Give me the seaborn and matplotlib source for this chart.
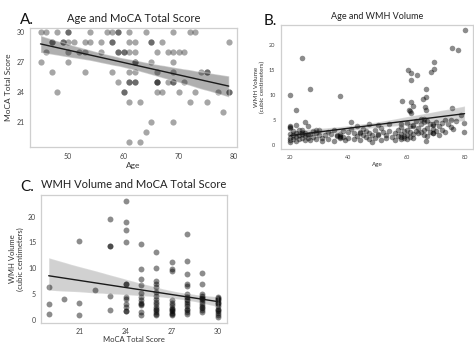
import numpy as np
import pandas as pd
import matplotlib
matplotlib.use("Agg")
import matplotlib.pyplot as plt
import seaborn as sns

sns.set_theme(style="white")
plt.rcParams['font.family'] = ['Lato', 'DejaVu Sans']

# ---------------- Panel A: Age vs MoCA ----------------
age_a = ([45, 46, 48, 50, 50, 54, 57, 58, 59, 59, 61, 64, 69, 72, 73] +
         [47, 47, 49, 49, 50, 51, 53, 54, 56, 58, 58, 61, 62, 65, 65, 67, 79] +
         [46, 50, 52, 53, 56, 59, 59, 60, 60, 61, 62, 66, 68, 69, 70, 71] +
         [45, 50, 62, 62, 65, 69] +
         [47, 53, 58, 61, 62, 66, 69, 74, 75, 75] +
         [59, 61, 61, 62, 62, 66, 66, 66, 68, 69, 69, 71] +
         [48, 60, 60, 66, 67, 70, 73, 77, 79, 79] +
         [61, 63, 72, 75] + [78] + [65, 69] + [64] + [61, 63])
moca_a = ([30] * 15 + [29] * 17 + [28] * 16 + [27] * 6 + [26] * 10 +
          [25] * 12 + [24] * 10 + [23] * 4 + [22] * 1 + [21] * 2 + [20] * 1 + [19] * 2)

# ---------------- Panel B: Age vs WMH ----------------
age_b = [20, 24, 22, 27, 37, 60.4, 61.4, 61.4, 63.5, 58.4, 61.4, 62.3, 60.9, 61.2, 61.4,
         66.5, 66.5, 65.5, 66.2, 68.4, 69.5, 69.5, 75.5, 77.6, 79.8, 75.5, 78.6, 79.5, 79.5,
         66.5, 66.5, 65.8,
         20, 20, 20, 20, 20, 20, 20, 21, 21, 21, 22, 22, 22, 22, 23, 23, 23,
         24, 24, 24, 24, 25, 25, 25, 25, 26, 26, 26, 27, 27, 28, 28, 29, 29, 29,
         30, 30, 31, 31, 32, 33, 33, 34, 35, 35, 36, 36, 37, 37, 37, 37, 38, 38,
         39, 40, 40, 41, 41, 42, 42, 43, 43, 44, 44, 44, 45, 45, 46, 46, 47, 47, 47,
         48, 48, 49, 49, 50, 50, 50, 51, 51, 52, 53, 53, 54, 54, 55, 56, 56, 57, 57,
         58, 58, 58, 58, 58, 59, 59, 59, 60, 60, 60, 60, 61, 61, 61, 62, 62, 62, 62,
         63, 63, 64, 64, 65, 65, 65, 66, 66, 66, 67, 67, 67, 68, 68, 69, 69, 69, 69, 69,
         70, 70, 71, 71, 72, 72, 73, 73, 74, 75, 75, 76, 77]
wmh_b = [10, 17.5, 7, 11.3, 9.8, 15.1, 14.4, 13.0, 14.0, 8.8, 8.7, 7.9, 7.0, 6.8, 6.5,
         9.7, 11.3, 9.2, 7.7, 14.6, 15.3, 16.6, 19.5, 19.0, 23.0, 7.5, 6.0, 4.5, 2.7,
         0.9, 7.0, 5.2,
         0.7, 1.0, 1.5, 2.2, 3.5, 3.8, 3.6, 1.2, 2.0, 2.8, 0.9, 1.6, 2.5, 4.0, 1.2, 2.0, 3.0,
         1.5, 2.2, 3.1, 2.6, 1.0, 1.8, 4.6, 2.5, 2.0, 3.8, 1.4, 1.1, 2.3, 1.6, 2.8, 1.2, 2.5, 3.0,
         2.0, 3.1, 0.8, 1.5, 2.0, 1.3, 2.6, 2.2, 0.8, 3.0, 1.8, 2.1, 1.6, 1.9, 2.3, 1.5, 2.8, 1.7,
         1.0, 2.6, 1.4, 4.7, 3.3, 1.2, 2.4, 3.8, 1.9, 2.4, 2.6, 1.0, 3.2, 2.0, 1.6, 2.8, 4.3, 1.2, 2.5,
         0.6, 2.0, 1.5, 3.0, 2.1, 2.3, 4.0, 1.1, 3.4, 2.6, 1.4, 2.0, 2.8, 4.2, 1.6, 2.4, 1.0, 3.0, 1.9,
         1.2, 1.6, 2.2, 3.6, 4.2, 1.8, 2.8, 1.4, 2.0, 3.0, 4.4, 1.2, 2.6, 3.8, 1.6, 3.9, 4.1, 2.2, 1.5,
         2.8, 4.8, 2.4, 3.4, 4.2, 2.7, 5.2, 3.0, 4.6, 2.0, 4.8, 1.8, 3.5, 2.6, 4.2, 4.0, 4.2, 2.4, 2.5, 3.3,
         4.6, 2.8, 3.8, 2.0, 4.4, 3.0, 5.0, 2.6, 4.3, 3.6, 5.0, 3.2, 4.8]

# ---------------- Panel C: MoCA vs WMH ----------------
moca_c = ([19] * 3 + [20] + [21] * 3 + [22] + [23] * 5 + [24] * 12 + [25] * 12 +
          [26] * 16 + [27] * 13 + [28] * 16 + [29] * 14 + [30] * 14)
wmh_c = ([6.3, 3.0, 1.2] + [4.0] + [15.2, 3.2, 0.9] + [5.8] +
         [19.6, 14.3, 14.3, 4.7, 2.0] +
         [23.0, 19.0, 17.5, 15.0, 7.0, 7.0, 4.5, 4.0, 3.0, 2.5, 1.8, 1.7] +
         [14.7, 9.8, 8.0, 6.7, 5.2, 4.5, 3.9, 3.0, 2.8, 1.5, 1.0, 3.3] +
         [13.1, 10.0, 7.5, 7.0, 6.4, 5.5, 4.7, 4.1, 3.5, 3.0, 2.5, 2.0, 1.5, 1.0, 1.2, 2.2] +
         [11.3, 9.8, 9.4, 3.8, 3.2, 2.8, 2.4, 2.0, 1.7, 1.4, 1.0, 2.2, 1.2] +
         [16.7, 11.4, 8.8, 7.0, 6.6, 5.0, 4.5, 4.0, 3.5, 3.0, 2.6, 2.2, 2.0, 1.5, 1.1, 3.8] +
         [9.0, 7.0, 5.0, 4.6, 4.3, 4.0, 3.6, 3.2, 2.8, 2.3, 1.9, 1.5, 4.4, 2.5] +
         [4.5, 4.2, 3.8, 3.4, 3.0, 2.6, 2.2, 1.8, 1.4, 1.0, 0.6, 4.0, 3.2, 2.0])

df_a = pd.DataFrame({"Age": age_a, "MoCA": moca_a})
df_b = pd.DataFrame({"Age": age_b, "WMH": wmh_b})
df_c = pd.DataFrame({"MoCA": moca_c, "WMH": wmh_c})

fig = plt.figure(figsize=(4.74, 3.46), dpi=100)
W, H = 474, 346

def add_ax(l, t, r, b):
    return fig.add_axes([l / W, 1 - b / H, (r - l) / W, (b - t) / H])

axA = add_ax(30, 28, 237, 147)
axB = add_ax(281, 25, 473, 149)
axC = add_ax(41, 195, 227, 323)

def style(ax, fs, pad=2):
    for s in ax.spines.values():
        s.set_color("#cfcfcf")
        s.set_linewidth(0.9)
    ax.tick_params(axis="both", labelsize=fs, colors="#444444", length=2,
                   width=0.6, pad=pad, direction="out")
    ax.tick_params(axis="both", color="#999999")
    ax.grid(False)

def reg(ax, data, x, y, s, alpha, band_alpha):
    sns.regplot(data=data, x=x, y=y, ax=ax, color="black",
                scatter_kws=dict(s=s, alpha=alpha, linewidths=0, color="black"),
                line_kws=dict(color="#1a1a1a", lw=1.0))
    for coll in ax.collections[1:]:
        coll.set_alpha(band_alpha)

reg(axA, df_a, "Age", "MoCA", 20, 0.35, 0.35)
axA.set_xlim(43.1, 80.5)
axA.set_ylim(18.5, 30.4)
axA.set_xticks([50, 60, 70, 80])
axA.set_yticks([21, 24, 27, 30])
style(axA, 5)
axA.set_xlabel("Age", fontsize=6, labelpad=2, color="#333333")
axA.set_ylabel("MoCA Total Score", fontsize=6, labelpad=3, color="#333333")
axA.set_title("Age and MoCA Total Score", fontsize=8, pad=4, color="#222222")

reg(axB, df_b, "Age", "WMH", 16, 0.45, 0.2)
axB.set_xlim(16.9, 82.7)
axB.set_ylim(-0.8, 24.0)
axB.set_xticks([20, 40, 60, 80])
axB.set_yticks([0, 5, 10, 15, 20])
style(axB, 4)
axB.set_xlabel("Age", fontsize=4.5, labelpad=2, color="#333333")
axB.set_ylabel("WMH Volume\n(cubic centimeters)", fontsize=4.5, labelpad=3,
               color="#333333", linespacing=1.1)
axB.set_title("Age and WMH Volume", fontsize=6.5, pad=4, color="#222222")

reg(axC, df_c, "MoCA", "WMH", 18, 0.45, 0.2)
axC.set_xlim(18.5, 30.6)
axC.set_ylim(-0.6, 24.2)
axC.set_xticks([21, 24, 27, 30])
axC.set_yticks([0, 5, 10, 15, 20])
style(axC, 5, pad=1.5)
axC.set_xlabel("MoCA Total Score", fontsize=5.5, color="#333333", va="center")
axC.xaxis.set_label_coords(0.5, -(340 - 323) / 128)
axC.set_ylabel("WMH Volume\n(cubic centimeters)", fontsize=5.5, labelpad=3,
               color="#333333", linespacing=1.1)
axC.set_title("WMH Volume and MoCA Total Score", fontsize=8, pad=5, color="#222222")

fig.text(20 / W, 1 - 20 / H, "A.", fontsize=11, va="center", ha="left", color="#111111")
fig.text(264 / W, 1 - 21 / H, "B.", fontsize=11, va="center", ha="left", color="#111111")
fig.text(20 / W, 1 - 187 / H, "C.", fontsize=11, va="center", ha="left", color="#111111")

fig.savefig("out.png", dpi=100, facecolor="white")
